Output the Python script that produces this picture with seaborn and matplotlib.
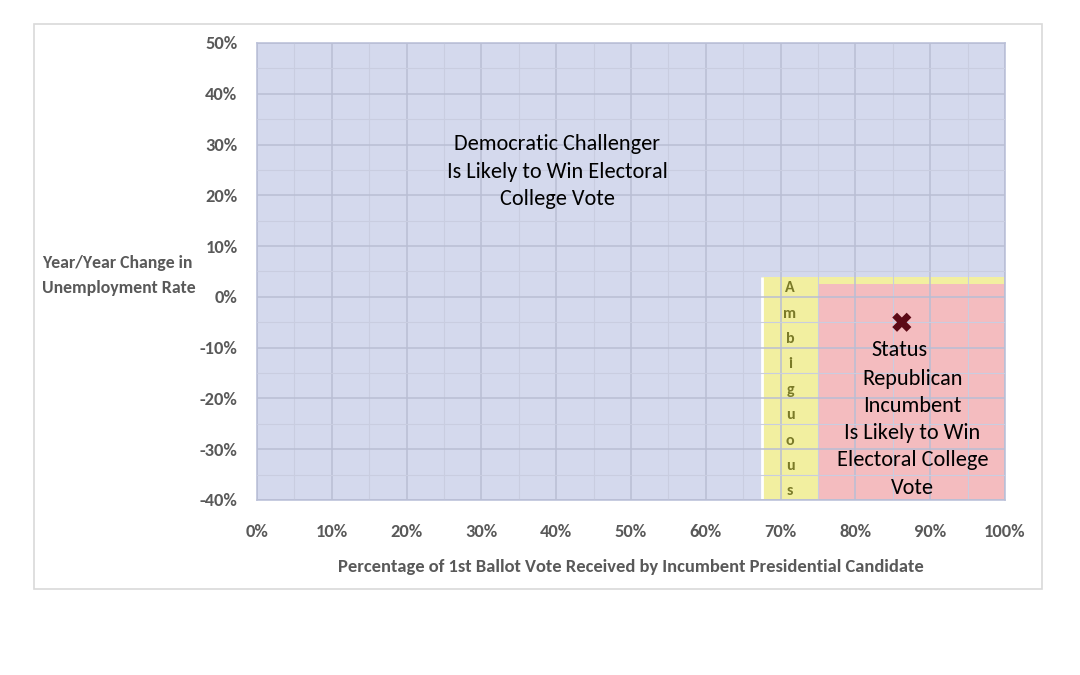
import matplotlib
matplotlib.use("Agg")
import matplotlib.pyplot as plt
import matplotlib.patches as mpatches
from matplotlib.ticker import MultipleLocator, FuncFormatter
import seaborn as sns
import pandas as pd


# zones of the chart, in percent
zone_names = ["Democratic Challenger", "Ambiguous", "Republican Incumbent"]
zone_x0 = [0, 67.5, 75]
zone_x1 = [100, 100, 100]
zone_y0 = [-40, -40, -40]
zone_y1 = [50, 4, 2.5]
zone_colors = ["#d4d9ed", "#f2efa0", "#f4bcbf"]

# current status point
status_x = [86.2]
status_y = [-5]

x_ticks = [0, 10, 20, 30, 40, 50, 60, 70, 80, 90, 100]
y_ticks = [-40, -30, -20, -10, 0, 10, 20, 30, 40, 50]

sns.set_style("white")
plt.rcParams["font.family"] = ["Carlito", "DejaVu Sans"]

grey = "#595959"
fs = 13.3

fig = plt.figure(figsize=(10.8, 6.75), dpi=100)
ax = fig.add_axes([0.238, 0.2593, 0.6926, 0.677])

# outer frame of the chart
fig.patches.append(mpatches.Rectangle((0.0315, 0.1274), 0.9333, 0.837,
	transform=fig.transFigure, fill=False, edgecolor="#d9d9d9", linewidth=1.2))

for i in range(len(zone_names)):
	ax.fill_between([zone_x0[i], zone_x1[i]], zone_y0[i], zone_y1[i],
		color=zone_colors[i], linewidth=0, zorder=1)

ax.vlines(zone_x0[1], zone_y0[1], zone_y1[1], color="white", linewidth=2, zorder=1.5)

status = pd.DataFrame({"x": status_x, "y": status_y})
sns.scatterplot(data=status, x="x", y="y", marker="X", s=190, color="#5c0a16",
	edgecolor="none", ax=ax, zorder=5)

ax.set_xlim(0, 100)
ax.set_ylim(-40, 50)
ax.set_xticks(x_ticks)
ax.set_yticks(y_ticks)
ax.xaxis.set_minor_locator(MultipleLocator(5))
ax.yaxis.set_minor_locator(MultipleLocator(5))
pct = FuncFormatter(lambda v, p: f"{v:.0f}%".replace("\u2212", "-"))
ax.xaxis.set_major_formatter(pct)
ax.yaxis.set_major_formatter(pct)

ax.set_axisbelow(False)
ax.grid(which="major", color="#b9bed4", linewidth=1.1, zorder=2)
ax.grid(which="minor", color="#c9cde0", linewidth=0.8, zorder=2)
for s in ax.spines.values():
	s.set_color("#bcc2da")
	s.set_linewidth(1.2)

ax.tick_params(axis="both", which="both", length=0, labelsize=fs, labelcolor=grey)
ax.tick_params(axis="x", pad=17)
ax.tick_params(axis="y", pad=14)
for lab in ax.get_xticklabels() + ax.get_yticklabels():
	lab.set_fontweight("bold")

ax.set_xlabel("Percentage of 1st Ballot Vote Received by Incumbent Presidential Candidate",
	fontsize=fs, fontweight="bold", color=grey, labelpad=14)
ax.set_ylabel("")
fig.text(0.039, 0.592, "Year/Year Change in\nUnemployment Rate", ha="left", va="center",
	fontsize=12.8, fontweight="bold", color=grey, linespacing=1.75)

ax.text(40.1, 24.6, "Democratic Challenger\nIs Likely to Win Electoral\nCollege Vote",
	ha="center", va="center", fontsize=16, color="black", linespacing=1.47, zorder=4)

for i, ch in enumerate("Ambiguous"):
	ax.text(71.25, 1.7 - 5 * i, ch, ha="center", va="center", fontsize=11.5,
		fontweight="bold", color="#7a7a28", zorder=4)

ax.text(85.9, -10.5, "Status", ha="center", va="center", fontsize=16, color="black", zorder=4)
ax.text(87.6, -26.9, "Republican\nIncumbent\nIs Likely to Win\nElectoral College\nVote",
	ha="center", va="center", fontsize=16, color="black", linespacing=1.44, zorder=4)

fig.savefig("out.png", dpi=100, facecolor="white")
